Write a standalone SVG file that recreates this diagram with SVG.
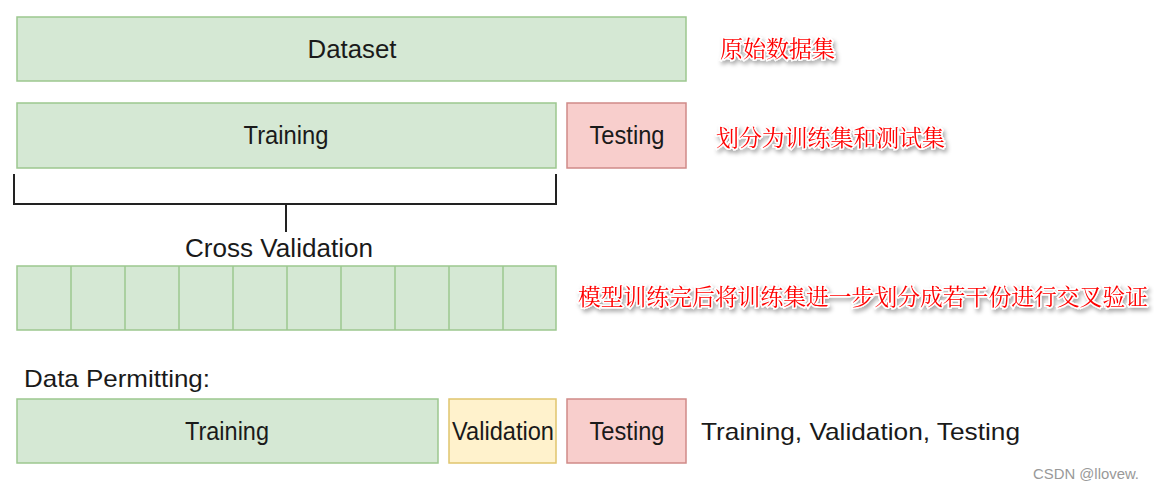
<svg xmlns="http://www.w3.org/2000/svg" width="1154" height="489" viewBox="0 0 1154 489">
<style>
.g{fill:#d5e8d4;stroke:#9cc78f;stroke-width:1.5}
.r{fill:#f8cecc;stroke:#d08a88;stroke-width:1.5}
.y{fill:#fff2cc;stroke:#e0c56e;stroke-width:1.5}
.t{font-family:"Liberation Sans",Arial,sans-serif;fill:#1a1a1a;text-anchor:middle;dominant-baseline:central;font-size:26px}
.l{font-family:"Liberation Sans",Arial,sans-serif;fill:#1a1a1a;font-size:24px}
.cn{font-family:"Noto Serif CJK SC","Noto Sans CJK SC",serif;fill:#ff0000;font-size:23px;stroke:#fff;stroke-width:3;paint-order:stroke;filter:url(#sh)}
.ln{fill:none;stroke:#222;stroke-width:2}
</style>
<defs>
<filter id="sh" x="-10%" y="-40%" width="120%" height="200%">
<feDropShadow dx="2" dy="3" stdDeviation="2" flood-color="#000" flood-opacity="0.35"/>
</filter>
</defs>
<rect width="1154" height="489" fill="#fff"/>
<g id="dataset"><rect class="g" x="17" y="17" width="669" height="64"/><text class="t" x="352" y="49" textLength="89" lengthAdjust="spacingAndGlyphs">Dataset</text></g>
<g id="training1"><rect class="g" x="17" y="103" width="539" height="65"/><text class="t" x="286" y="135" textLength="85" lengthAdjust="spacingAndGlyphs">Training</text></g>
<g id="testing1"><rect class="r" x="567" y="103" width="119" height="65"/><text class="t" x="627" y="135" textLength="75" lengthAdjust="spacingAndGlyphs">Testing</text></g>
<g id="connectors">
<path class="ln" d="M14 174 V204 H556 V174 M286 204 V232"/>
</g>
<g id="crossval-label"><text class="t" x="279" y="248" textLength="188" lengthAdjust="spacingAndGlyphs">Cross Validation</text></g>
<g id="folds">
<rect class="g" x="17" y="266" width="539" height="64"/>
<path fill="none" stroke="#9cc78f" stroke-width="1.5" d="M71 266V330M125 266V330M179 266V330M233 266V330M287 266V330M341 266V330M395 266V330M449 266V330M503 266V330"/>
</g>
<g id="dp-label"><text class="l" x="24" y="387" textLength="186" lengthAdjust="spacingAndGlyphs">Data Permitting:</text></g>
<g id="training2"><rect class="g" x="17" y="399" width="421" height="64"/><text class="t" x="227" y="431" textLength="84" lengthAdjust="spacingAndGlyphs">Training</text></g>
<g id="validation"><rect class="y" x="449" y="399" width="107" height="64"/><text class="t" x="503" y="431" textLength="102" lengthAdjust="spacingAndGlyphs">Validation</text></g>
<g id="testing2"><rect class="r" x="567" y="399" width="119" height="64"/><text class="t" x="627" y="431" textLength="75" lengthAdjust="spacingAndGlyphs">Testing</text></g>
<g id="tvt-label"><text class="l" x="701" y="440" font-size="28" textLength="319" lengthAdjust="spacingAndGlyphs">Training, Validation, Testing</text></g>
<g id="note1"><text class="cn" x="720" y="57" textLength="115" lengthAdjust="spacingAndGlyphs">原始数据集</text></g>
<g id="note2"><text class="cn" x="716" y="146" textLength="229" lengthAdjust="spacingAndGlyphs">划分为训练集和测试集</text></g>
<g id="note3"><text class="cn" x="578" y="305" textLength="570" lengthAdjust="spacingAndGlyphs">模型训练完后将训练集进一步划分成若干份进行交叉验证</text></g>
<g id="watermark"><text x="1033" y="479" font-family="'Liberation Sans',Arial,sans-serif" font-size="14" fill="#999" textLength="106" lengthAdjust="spacingAndGlyphs">CSDN @llovew.</text></g>
</svg>
